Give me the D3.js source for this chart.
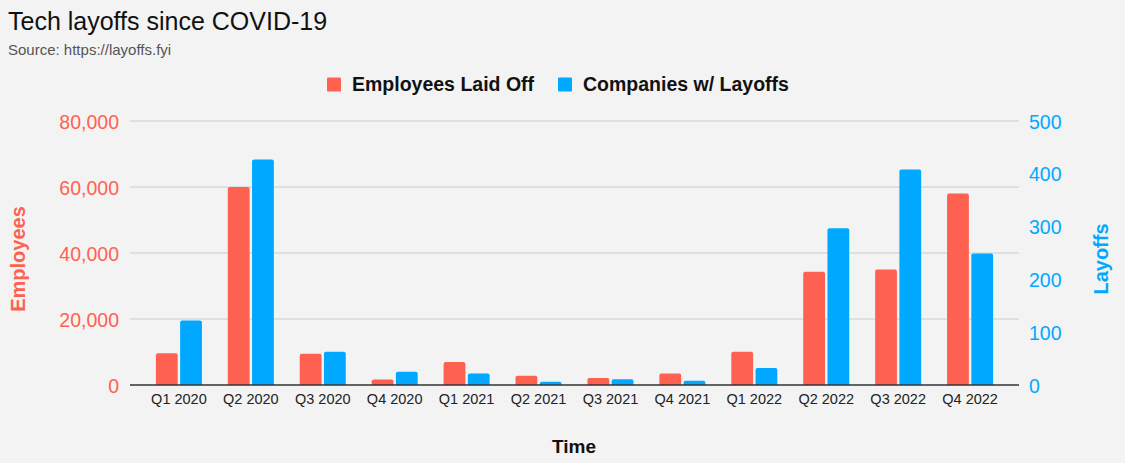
<!DOCTYPE html>
<html>
<head>
<meta charset="utf-8">
<script src="https://cdn.jsdelivr.net/npm/d3@7"></script>
<style>
  html, body { margin: 0; padding: 0; background: #f3f3f3; }
  svg { display: block; font-family: "Liberation Sans", Arial, sans-serif; }
</style>
</head>
<body>
<svg id="chart" width="1125" height="463"></svg>
<script>
const categories = ["Q1 2020","Q2 2020","Q3 2020","Q4 2020","Q1 2021","Q2 2021","Q3 2021","Q4 2021","Q1 2022","Q2 2022","Q3 2022","Q4 2022"];
const employeesLaidOff = [9600, 60000, 9500, 1700, 7000, 2800, 2100, 3500, 10100, 34300, 35000, 58000];
const companiesWithLayoffs = [122, 427, 63, 25, 22, 6, 11, 8, 32, 297, 408, 249];
const leftTicks = [0, 20000, 40000, 60000, 80000];
const rightTicks = [0, 100, 200, 300, 400, 500];
const seriesNames = ["Employees Laid Off", "Companies w/ Layoffs"];

const RED = "#ff6150", BLUE = "#00a9ff";
const FONT = "Liberation Sans, Arial, sans-serif";
const svg = d3.select("#chart");
const W = 1125, H = 463;
svg.append("rect").attr("width", W).attr("height", H).attr("fill", "#f3f3f3");

const plotLeft = 130, plotRight = 1019, plotTop = 121, plotBottom = 385;

const x = d3.scaleBand().domain(categories).range([plotLeft, plotRight]).paddingInner(0).paddingOuter(0.18);
const bw = x.bandwidth();
const x1 = d3.scaleBand().domain(seriesNames).range([bw * 0.18, bw * 0.82]).paddingInner(0.1);
const yL = d3.scaleLinear().domain([0, 80000]).range([plotBottom, plotTop]);
const yR = d3.scaleLinear().domain([0, 500]).range([plotBottom, plotTop]);

// gridlines
svg.append("g").selectAll("line").data(leftTicks.filter(d => d > 0)).join("line")
  .attr("x1", plotLeft).attr("x2", plotRight)
  .attr("y1", d => yL(d)).attr("y2", d => yL(d))
  .attr("stroke", "#cccccc").attr("stroke-width", 1);

// bars with rounded top corners
function barPath(x0, w, yTop, yBase, r) {
  r = Math.min(r, (yBase - yTop), w / 2);
  return `M${x0},${yBase}V${yTop + r}Q${x0},${yTop} ${x0 + r},${yTop}H${x0 + w - r}Q${x0 + w},${yTop} ${x0 + w},${yTop + r}V${yBase}Z`;
}
const bars = svg.append("g");
bars.selectAll("path.emp").data(categories).join("path").attr("class", "emp")
  .attr("fill", RED)
  .attr("d", (c, i) => barPath(x(c) + x1(seriesNames[0]), x1.bandwidth(), yL(employeesLaidOff[i]), plotBottom, 2));
bars.selectAll("path.comp").data(categories).join("path").attr("class", "comp")
  .attr("fill", BLUE)
  .attr("d", (c, i) => barPath(x(c) + x1(seriesNames[1]), x1.bandwidth(), yR(companiesWithLayoffs[i]), plotBottom, 2));

// baseline
svg.append("line").attr("x1", plotLeft).attr("x2", plotRight).attr("y1", plotBottom).attr("y2", plotBottom)
  .attr("stroke", "#333333").attr("stroke-width", 1.5);

// left axis
const axL = d3.axisLeft(yL).tickValues(leftTicks).tickFormat(d3.format(",")).tickSize(0).tickPadding(11);
const gL = svg.append("g").attr("transform", `translate(${plotLeft},0)`).call(axL);
gL.select(".domain").remove();
gL.selectAll("text").attr("fill", RED).attr("font-size", 19.5).attr("font-family", FONT).attr("dy", "0.36em");

// right axis
const axR = d3.axisRight(yR).tickValues(rightTicks).tickSize(0).tickPadding(10);
const gR = svg.append("g").attr("transform", `translate(${plotRight},0)`).call(axR);
gR.select(".domain").remove();
gR.selectAll("text").attr("fill", BLUE).attr("font-size", 19.5).attr("font-family", FONT).attr("dy", "0.36em");

// x axis
const axX = d3.axisBottom(x).tickSize(0).tickPadding(9);
const gX = svg.append("g").attr("transform", `translate(0,${plotBottom})`).call(axX);
gX.select(".domain").remove();
gX.selectAll("text").attr("fill", "#222222").attr("font-size", 14.5).attr("font-family", FONT);

// title & subtitle
svg.append("text").attr("x", 8).attr("y", 30).attr("font-size", 25).attr("fill", "#111")
  .text("Tech layoffs since COVID-19");
svg.append("text").attr("x", 8).attr("y", 55).attr("font-size", 15).attr("fill", "#555")
  .text("Source: https://layoffs.fyi");

// legend
const legend = svg.append("g");
const legendItems = [
  { name: seriesNames[0], color: RED, x: 327 },
  { name: seriesNames[1], color: BLUE, x: 558 }
];
legendItems.forEach(it => {
  legend.append("rect").attr("x", it.x).attr("y", 77.5).attr("width", 14).attr("height", 14).attr("rx", 1).attr("fill", it.color);
  legend.append("text").attr("x", it.x + 25).attr("y", 91).attr("font-size", 19.5).attr("font-weight", "bold").attr("fill", "#111")
    .text(it.name);
});

// axis titles
svg.append("text").attr("transform", "translate(25,259) rotate(-90)").attr("text-anchor", "middle")
  .attr("font-size", 20).attr("font-weight", "bold").attr("fill", RED).text("Employees");
svg.append("text").attr("transform", "translate(1108,259) rotate(-90)").attr("text-anchor", "middle")
  .attr("font-size", 20).attr("font-weight", "bold").attr("fill", BLUE).text("Layoffs");
svg.append("text").attr("x", 574).attr("y", 453).attr("text-anchor", "middle")
  .attr("font-size", 19).attr("font-weight", "bold").attr("fill", "#111").text("Time");
</script>
</body>
</html>
